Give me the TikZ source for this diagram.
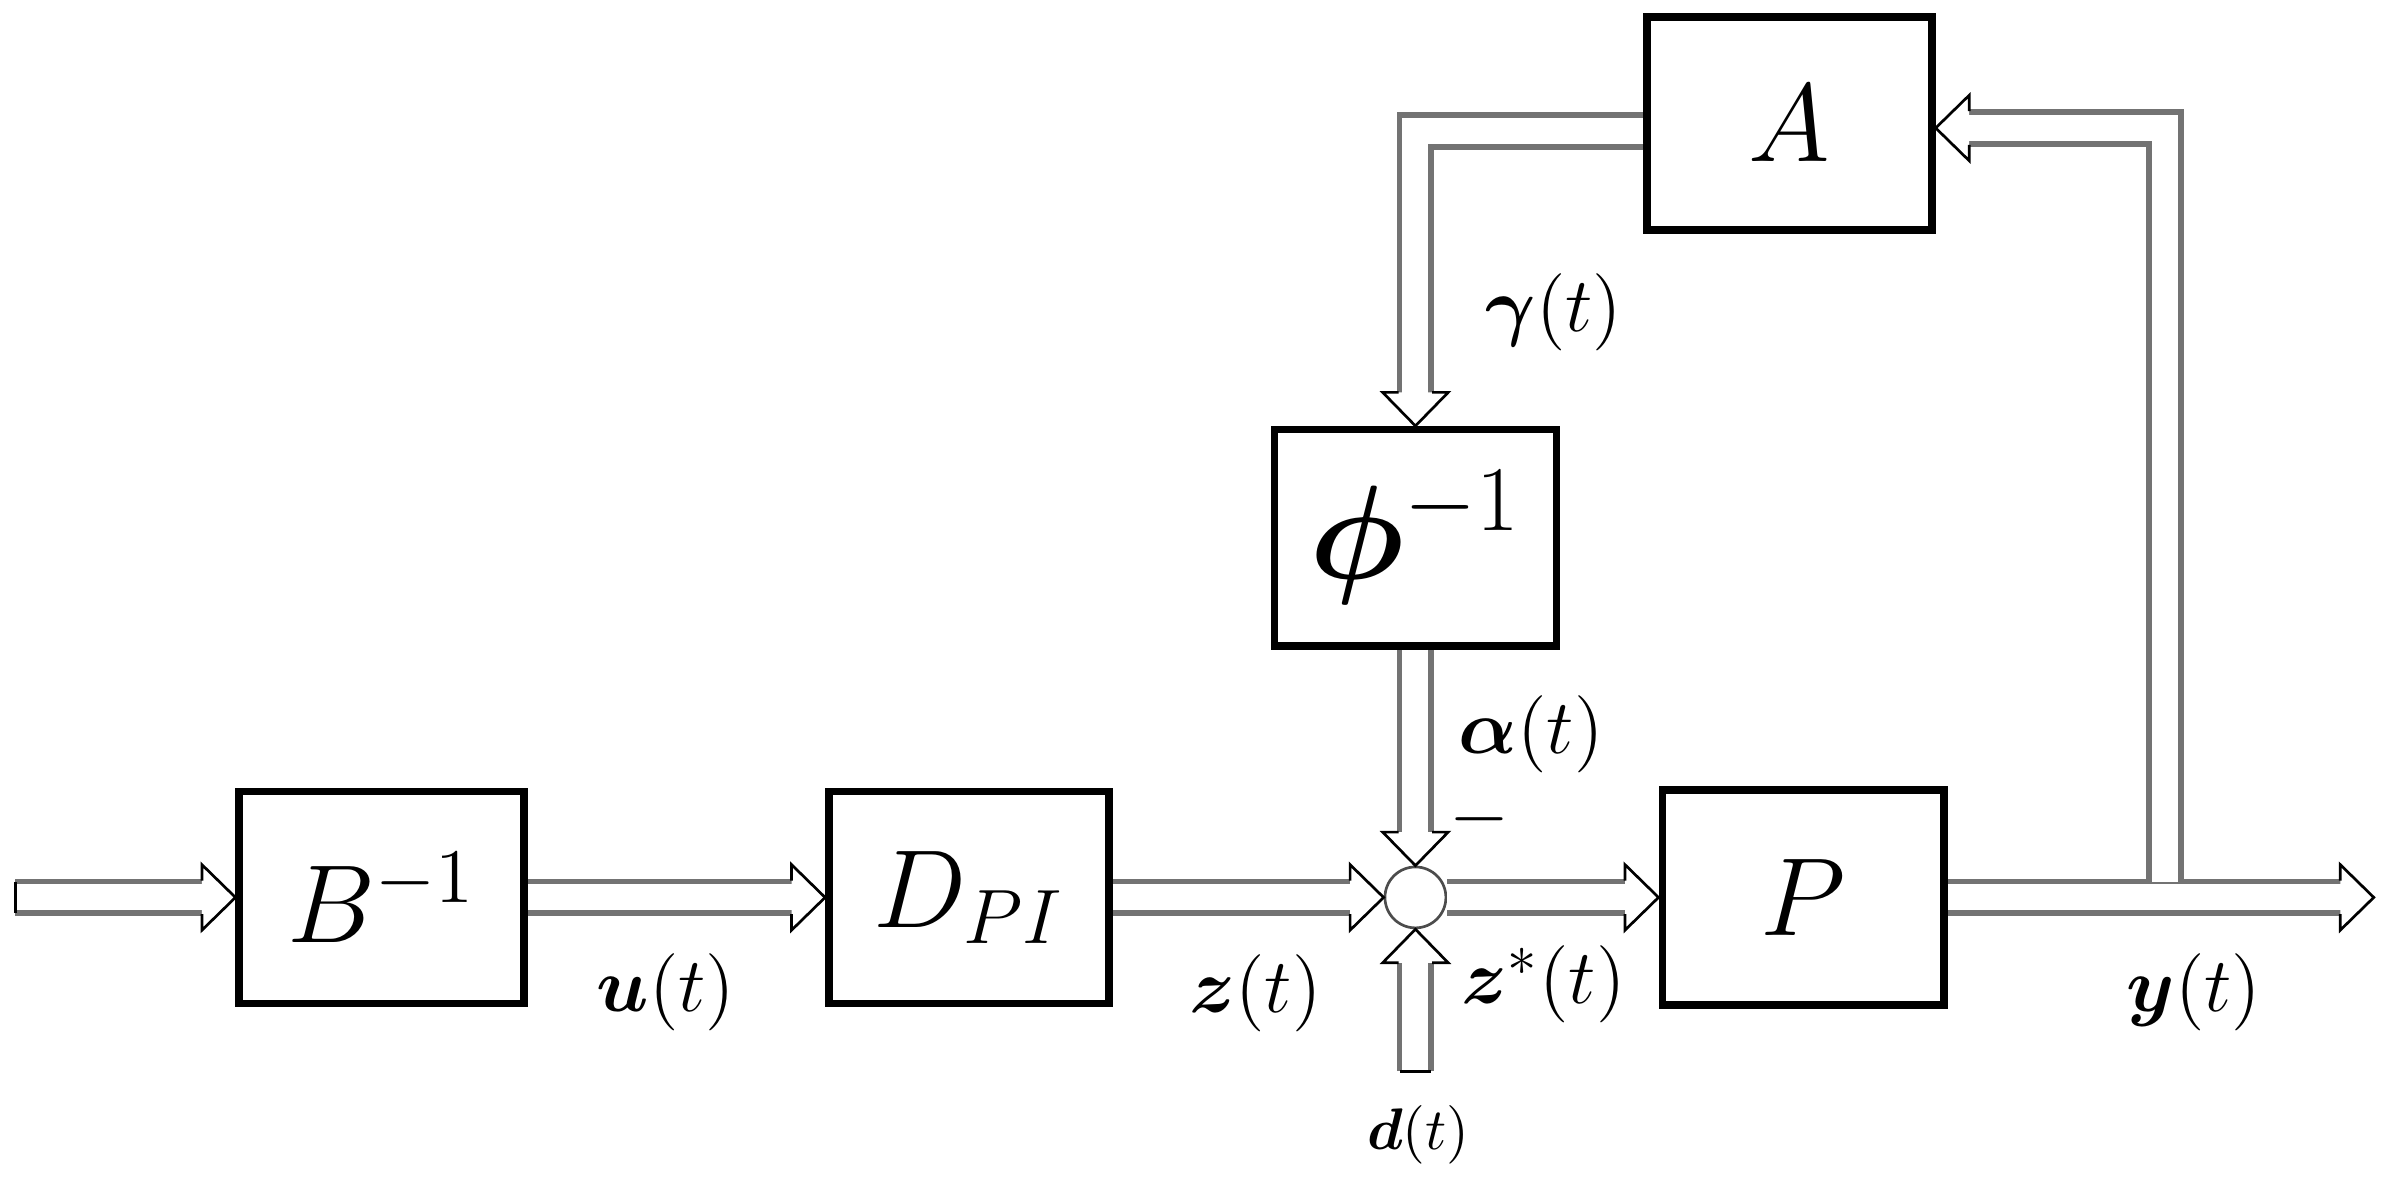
\documentclass[tikz,border=0pt]{standalone}
\usepackage{amsmath,bm}
\begin{document}
\begin{tikzpicture}[
  blk/.style={draw=black, line width=1.4pt, minimum width=#1, inner sep=0pt},
  shaft/.style={draw=black!55, line width=1.1pt, double=white, double distance=0.17cm, line join=miter},
  lbl/.style={font=\fontsize{15}{18}\selectfont},
  tip/.pic={\fill[white] (-0.22,0.215) -- (0,0) -- (-0.22,-0.215) -- cycle;
            \draw[black, line width=0.5pt] (-0.22,0.11) -- (-0.22,0.215) -- (0,0) -- (-0.22,-0.215) -- (-0.22,-0.11);}
]
\useasboundingbox (0,0) rectangle (15.68,7.78);
\def\ym{1.89}
\node[blk=1.87cm, minimum height=1.39cm, font=\fontsize{22}{26}\selectfont] (B) at (2.505,\ym) {$B^{-1}$};
\node[blk=1.84cm, minimum height=1.39cm, font=\fontsize{22}{26}\selectfont] (D) at (6.36,\ym) {$D_{PI}$};
\node[blk=1.85cm, minimum height=1.41cm, font=\fontsize{22}{26}\selectfont] (P) at (11.835,\ym) {$P$};
\node[blk=1.87cm, minimum height=1.40cm, font=\fontsize{22}{26}\selectfont] (A) at (11.745,6.97) {$A$};
\node[blk=1.85cm, minimum height=1.42cm, font=\fontsize{25}{30}\selectfont] (F) at (9.29,4.25) {$\bm{\phi}^{-1}$};
\node[draw=black!70, line width=0.5pt, circle, minimum size=0.4cm, inner sep=0pt] (S) at (9.29,\ym) {};
\coordinate (in) at (0.10,\ym);
\coordinate (out) at (15.58,\ym);
\coordinate (br) at (14.21,\ym+0.1);
\coordinate (brt) at (14.21,6.94);
\coordinate (ac) at (9.29,6.92);
\coordinate (dd) at (9.29,0.75);
% shafts
\draw[shaft, shorten >=0.2cm] (in) -- (B.west);
\draw[shaft, shorten >=0.2cm] (B.east) -- (D.west);
\draw[shaft, shorten >=0.2cm] (D.east) -- (S.west);
\draw[shaft, shorten >=0.2cm] (S.east) -- (P.west);
\draw[shaft, shorten >=0.2cm] (P.east) -- (out);
\draw[shaft, shorten >=0.2cm] (br) -- (brt) -- (A.east |- brt);
\draw[shaft, shorten >=0.2cm] (A.west |- ac) -- (ac) -- (F.north);
\draw[shaft, shorten >=0.2cm] (F.south) -- (S.north);
\draw[shaft, shorten >=0.2cm] (dd) -- (S.south);
\draw[black, line width=0.6pt] (0.10,\ym-0.1) -- (0.10,\ym+0.1);
\draw[black, line width=0.6pt] (9.19,0.75) -- (9.39,0.75);
% tips
\pic at (B.west) {tip};
\pic at (D.west) {tip};
\pic at (S.west) {tip};
\pic at (P.west) {tip};
\pic at (out) {tip};
\pic[rotate=180] at (A.east |- brt) {tip};
\pic[rotate=-90] at (F.north) {tip};
\pic[rotate=-90] at (S.north) {tip};
\pic[rotate=90] at (S.south) {tip};
% labels
\node[lbl] (lu) at (4.37,1.27) {$\bm{u}(t)$};
\node[lbl] (lz) at (8.24,1.26) {$\bm{z}(t)$};
\node[lbl] (lzs) at (10.13,1.32) {$\bm{z}^{*}(t)$};
\node[lbl] (ly) at (14.40,1.27) {$\bm{y}(t)$};
\node[font=\fontsize{11}{13}\selectfont] (ld) at (9.31,0.33) {$\bm{d}(t)$};
\node[lbl] (lg) at (10.20,5.73) {$\bm{\gamma}(t)$};
\node[lbl, inner sep=1pt] (la) at (10.05,2.96) {$\bm{\alpha}(t)$};
\node[lbl, inner sep=0pt] (lm) at (9.71,2.40) {$-$};
\end{tikzpicture}
\end{document}
